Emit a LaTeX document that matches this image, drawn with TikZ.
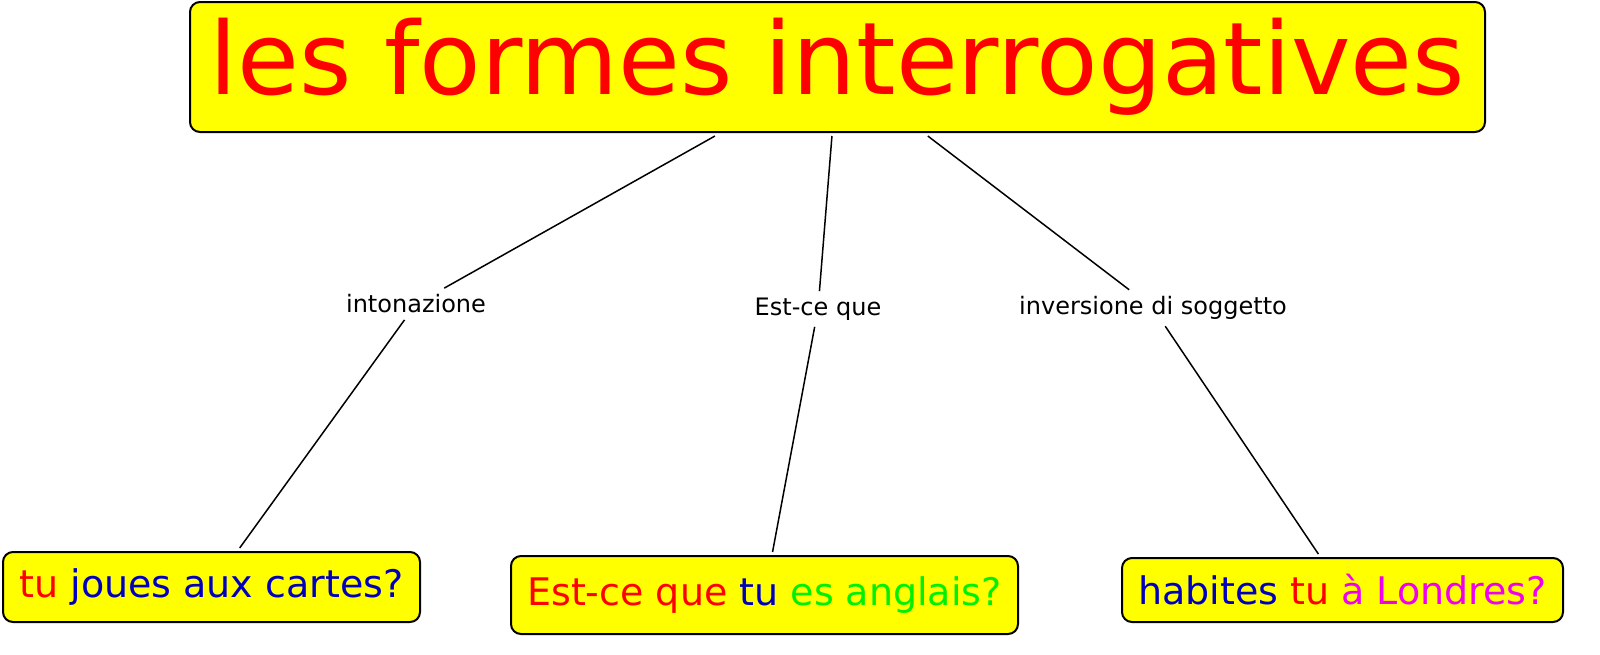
\documentclass[tikz,border=0pt]{standalone}
\usepackage{fontspec}
\setmainfont{DejaVu Sans}
\usepackage{xcolor}
\definecolor{qred}{RGB}{255,0,0}
\definecolor{qblue}{RGB}{0,0,190}
\definecolor{qgreen}{RGB}{0,240,0}
\definecolor{qpink}{RGB}{240,0,240}
\definecolor{qyellow}{RGB}{255,255,0}

\begin{document}
\begin{tikzpicture}[
    x=0.5pt, y=-0.5pt,
    concept/.style={rectangle, rounded corners=5pt, draw, line width=1pt, fill=qyellow, inner xsep=8pt, inner ysep=0pt, outer sep=2pt, align=center},
    linklabel/.style={font=\fontsize{12}{14}\selectfont, inner sep=3.3pt, outer sep=0pt},
    link/.style={line width=0.75pt}
]
    \useasboundingbox (0,0) rectangle (1600,654);

    % Concepts
    \node[concept, minimum width=647.5pt, minimum height=65pt, font=\fontsize{50.3}{56}\selectfont, text=qred] (title) at (837.5,67) {les formes interrogatives};
    \node[concept, minimum width=208.5pt, minimum height=35pt, font=\fontsize{19}{22}\selectfont] (intonation) at (211.5,587) {\textcolor{qred}{tu} \textcolor{qblue}{joues aux cartes?}};
    \node[concept, minimum width=253.5pt, minimum height=39pt, font=\fontsize{19}{22}\selectfont] (estceque) at (764.5,595) {\textcolor{qred}{Est-ce que} \textcolor{qblue}{tu} \textcolor{qgreen}{es anglais?}};
    \node[concept, minimum width=220.5pt, minimum height=32pt, font=\fontsize{19}{22}\selectfont] (inversion) at (1342.5,590) {\textcolor{qblue}{habites} \textcolor{qred}{tu} \textcolor{qpink}{à Londres?}};

    % Link labels
    \node[linklabel] (lintonation) at (416,304) {intonazione};
    \node[linklabel] (lestceque) at (818,309) {Est-ce que};
    \node[linklabel] (linversion) at (1153,308) {inversione di soggetto};

    % Links
    \draw[link] (title) -- (lintonation);
    \draw[link] (lintonation) -- (intonation);
    \draw[link] (title) -- (lestceque);
    \draw[link] (lestceque) -- (estceque);
    \draw[link] (title) -- (linversion);
    \draw[link] (linversion) -- (inversion);
\end{tikzpicture}
\end{document}
